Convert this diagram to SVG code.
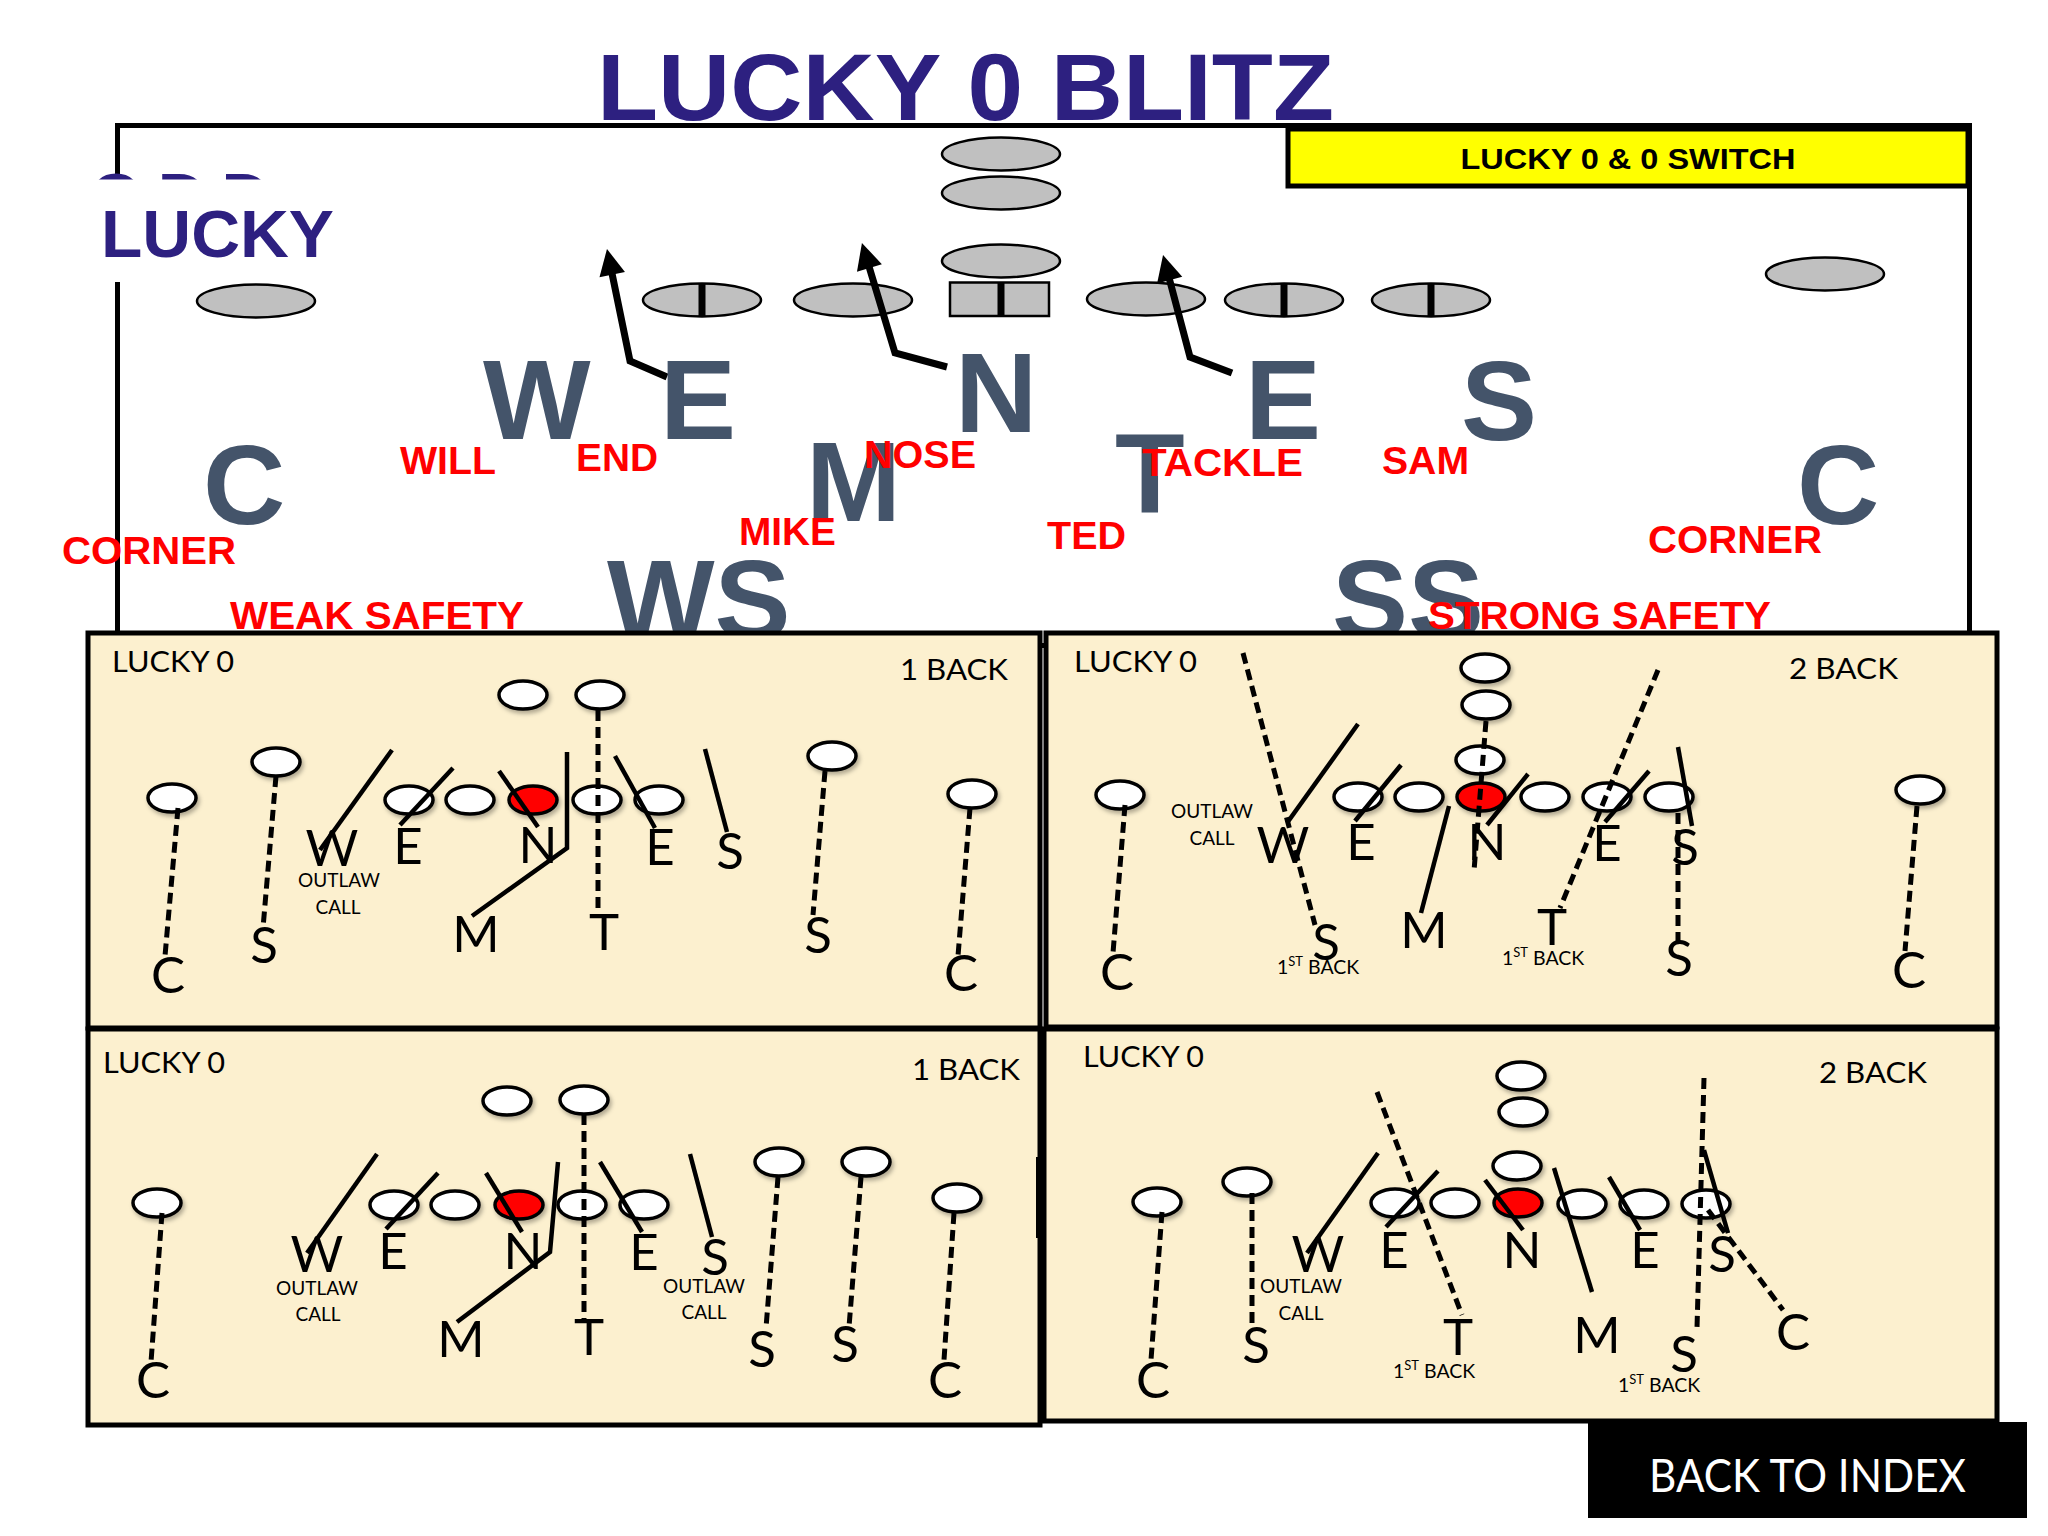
<svg xmlns="http://www.w3.org/2000/svg" width="2048" height="1536" viewBox="0 0 2048 1536">
<defs>
<filter id="sh" x="-30%" y="-30%" width="170%" height="180%"><feDropShadow dx="2" dy="3" stdDeviation="2" flood-color="#000" flood-opacity="0.3"/></filter>
<marker id="ah" markerUnits="userSpaceOnUse" viewBox="-16 -15 30 30" markerWidth="30" markerHeight="30" refX="0" refY="0" orient="auto" overflow="visible"><path d="M12,0 L-14,-13 L-14,13 z" fill="#000"/></marker>
</defs>
<style>
.ttl{font-family:"Liberation Sans",Arial,sans-serif;font-weight:bold;fill:#2D2080}
.big{font-family:"Liberation Sans",Arial,sans-serif;font-weight:bold;font-size:114px;fill:#44546A}
.red{font-family:"Liberation Sans",Arial,sans-serif;font-weight:bold;font-size:39px;fill:#FF0000}
.gp{fill:#C0C0C0;stroke:#000;stroke-width:2.5}
.bar{stroke:#000;stroke-width:7}
.arr{fill:none;stroke:#000;stroke-width:7;stroke-linejoin:miter}
.panel{fill:#FCF0CF;stroke:#000;stroke-width:5}
.pl{fill:#fff;stroke:#000;stroke-width:3.5;filter:url(#sh)}
.rp{fill:#FF0000}
.sl{stroke:#000;stroke-width:4.5;fill:none}
.dl{stroke:#000;stroke-width:5;fill:none;stroke-dasharray:11 6}
.pt{font-family:Lato,"Open Sans",sans-serif;fill:#000}
.let{font-size:51px;text-anchor:middle}
.hd{font-size:29px}
.oc{font-size:19px;text-anchor:middle}
.fb{font-size:19.5px}
</style>
<rect width="2048" height="1536" fill="#fff"/>

<!-- Top diagram frame -->
<g id="frame">
<rect x="117.5" y="125.5" width="1852" height="520" fill="#fff" stroke="#000" stroke-width="5"/>
</g>
<g id="title">
<text class="ttl" x="597" y="120" font-size="94" textLength="737" lengthAdjust="spacingAndGlyphs">LUCKY 0 BLITZ</text>
</g>
<g id="odd-lucky">
<text class="ttl" x="90" y="220" font-size="67" textLength="180" lengthAdjust="spacing">ODD</text>
<rect x="85" y="179.5" width="265" height="102.5" fill="#fff"/>
<text class="ttl" x="101" y="257" font-size="67" textLength="233" lengthAdjust="spacingAndGlyphs">LUCKY</text>
</g>
<g id="switch-box">
<rect x="1288" y="129" width="680" height="57" fill="#FFFF00" stroke="#000" stroke-width="5"/>
<text x="1628" y="169" text-anchor="middle" font-family="Liberation Sans, Arial, sans-serif" font-weight="bold" font-size="30" textLength="335" lengthAdjust="spacingAndGlyphs">LUCKY 0 &amp; 0 SWITCH</text>
</g>

<!-- offense (grey) -->
<g id="offense">
<ellipse class="gp" cx="1001" cy="154" rx="59" ry="16.5"/>
<ellipse class="gp" cx="1001" cy="193" rx="59" ry="16.5"/>
<ellipse class="gp" cx="1001" cy="261" rx="59" ry="16.5"/>
<ellipse class="gp" cx="256" cy="301" rx="59" ry="16.5"/>
<ellipse class="gp" cx="702" cy="300" rx="59" ry="16.5"/>
<line class="bar" x1="702" y1="283.5" x2="702" y2="316.5"/>
<ellipse class="gp" cx="853" cy="300" rx="59" ry="16.5"/>
<rect class="gp" x="950" y="282.5" width="99" height="33.5"/>
<line class="bar" x1="1001" y1="282.5" x2="1001" y2="316"/>
<ellipse class="gp" cx="1146" cy="299" rx="59" ry="16.5"/>
<ellipse class="gp" cx="1284" cy="300" rx="59" ry="16.5"/>
<line class="bar" x1="1284" y1="283.5" x2="1284" y2="316.5"/>
<ellipse class="gp" cx="1431" cy="300" rx="59" ry="16.5"/>
<line class="bar" x1="1431" y1="283.5" x2="1431" y2="316.5"/>
<ellipse class="gp" cx="1825" cy="274" rx="59" ry="16.5"/>
</g>

<g id="top-connectors">
<polyline class="arr" points="667,377 630,361 609.4,260.8" marker-end="url(#ah)"/>
<polyline class="arr" points="947,367 895,353 865.4,254.5" marker-end="url(#ah)"/>
<polyline class="arr" points="1232,373 1190,357 1166.1,266.6" marker-end="url(#ah)"/>
</g>

<g id="defense-letters">
<text class="big" x="483" y="439">W</text>
<text class="big" x="660" y="439">E</text>
<text class="big" x="955" y="432">N</text>
<text class="big" x="806" y="521">M</text>
<text class="big" x="203" y="524">C</text>
<text class="big" x="607" y="639">WS</text>
<text class="big" x="1115" y="512">T</text>
<text class="big" x="1245" y="439">E</text>
<text class="big" x="1461" y="440">S</text>
<text class="big" x="1797" y="524">C</text>
<text class="big" x="1332" y="639">SS</text>
</g>
<g id="position-names">
<text class="red" x="400" y="474" textLength="96" lengthAdjust="spacingAndGlyphs">WILL</text>
<text class="red" x="576" y="471" textLength="82" lengthAdjust="spacingAndGlyphs">END</text>
<text class="red" x="864" y="468" textLength="112" lengthAdjust="spacingAndGlyphs">NOSE</text>
<text class="red" x="739" y="545" textLength="97" lengthAdjust="spacingAndGlyphs">MIKE</text>
<text class="red" x="62" y="564" textLength="174" lengthAdjust="spacingAndGlyphs">CORNER</text>
<text class="red" x="230" y="629" textLength="294" lengthAdjust="spacingAndGlyphs">WEAK SAFETY</text>
<text class="red" x="1142" y="476" textLength="161" lengthAdjust="spacingAndGlyphs">TACKLE</text>
<text class="red" x="1382" y="474" textLength="87" lengthAdjust="spacingAndGlyphs">SAM</text>
<text class="red" x="1047" y="549" textLength="79" lengthAdjust="spacingAndGlyphs">TED</text>
<text class="red" x="1648" y="553" textLength="174" lengthAdjust="spacingAndGlyphs">CORNER</text>
<text class="red" x="1428" y="629" textLength="343" lengthAdjust="spacingAndGlyphs">STRONG SAFETY</text>
</g>

<!-- Panel top-left -->
<g id="panel-tl">
<rect class="panel" x="88" y="633" width="952" height="395"/>
<g id="tl-players">
<ellipse class="pl" cx="172" cy="798" rx="24" ry="14"/>
<ellipse class="pl" cx="276" cy="762" rx="24" ry="14"/>
<ellipse class="pl" cx="409" cy="800" rx="24" ry="14"/>
<ellipse class="pl" cx="470" cy="800" rx="24" ry="14"/>
<ellipse class="pl rp" cx="533" cy="800" rx="24" ry="14"/>
<ellipse class="pl" cx="597" cy="800" rx="24" ry="14"/>
<ellipse class="pl" cx="659" cy="800" rx="24" ry="14"/>
<ellipse class="pl" cx="523" cy="695" rx="24" ry="14"/>
<ellipse class="pl" cx="600" cy="695" rx="24" ry="14"/>
<ellipse class="pl" cx="832" cy="756" rx="24" ry="14"/>
<ellipse class="pl" cx="972" cy="794" rx="24" ry="14"/>
</g>
<g id="tl-connectors">
<line class="sl" x1="392" y1="750" x2="320" y2="850"/>
<line class="sl" x1="453" y1="768" x2="400" y2="825"/>
<line class="sl" x1="499" y1="771" x2="538" y2="827"/>
<polyline class="sl" points="567,752 567,848 472,916"/>
<line class="sl" x1="615" y1="756" x2="655" y2="828"/>
<line class="sl" x1="705" y1="749" x2="727" y2="832"/>
<line class="dl" x1="178" y1="808" x2="165" y2="956"/>
<line class="dl" x1="276" y1="776" x2="263" y2="928"/>
<line class="dl" x1="598" y1="710" x2="598" y2="913"/>
<line class="dl" x1="825" y1="771" x2="813" y2="915"/>
<line class="dl" x1="970" y1="808" x2="958" y2="956"/>
</g>
<g id="tl-labels" class="pt">
<text class="hd" x="112" y="672" textLength="122" lengthAdjust="spacingAndGlyphs">LUCKY 0</text>
<text class="hd" x="900" y="680" textLength="108" lengthAdjust="spacingAndGlyphs">1 BACK</text>
<text class="let" x="168" y="993">C</text>
<text class="let" x="264" y="963">S</text>
<text class="let" x="332" y="866">W</text>
<text class="let" x="408" y="864">E</text>
<text class="let" x="538" y="863">N</text>
<text class="let" x="476" y="952">M</text>
<text class="let" x="604" y="950">T</text>
<text class="let" x="660" y="865">E</text>
<text class="let" x="730" y="869">S</text>
<text class="let" x="818" y="953">S</text>
<text class="let" x="961" y="991">C</text>
<text class="oc" x="339" y="887">OUTLAW</text>
<text class="oc" x="338" y="914">CALL</text>
</g>
</g>

<!-- Panel top-right -->
<g id="panel-tr">
<rect class="panel" x="1046" y="633" width="951" height="394"/>
<g id="tr-players">
<ellipse class="pl" cx="1120" cy="795" rx="24" ry="14"/>
<ellipse class="pl" cx="1358" cy="797" rx="24" ry="14"/>
<ellipse class="pl" cx="1419" cy="797" rx="24" ry="14"/>
<ellipse class="pl rp" cx="1481" cy="797" rx="24" ry="14"/>
<ellipse class="pl" cx="1545" cy="797" rx="24" ry="14"/>
<ellipse class="pl" cx="1607" cy="797" rx="24" ry="14"/>
<ellipse class="pl" cx="1669" cy="797" rx="24" ry="14"/>
<ellipse class="pl" cx="1485" cy="668" rx="24" ry="14"/>
<ellipse class="pl" cx="1486" cy="705" rx="24" ry="14"/>
<ellipse class="pl" cx="1480" cy="760" rx="24" ry="14"/>
<ellipse class="pl" cx="1920" cy="790" rx="24" ry="14"/>
</g>
<g id="tr-connectors">
<line class="sl" x1="1358" y1="724" x2="1287" y2="823"/>
<line class="sl" x1="1401" y1="765" x2="1355" y2="821"/>
<line class="sl" x1="1449" y1="806" x2="1421" y2="913"/>
<line class="sl" x1="1528" y1="774" x2="1487" y2="825"/>
<line class="sl" x1="1649" y1="771" x2="1605" y2="822"/>
<line class="sl" x1="1678" y1="747" x2="1692" y2="826"/>
<line class="dl" x1="1243" y1="653" x2="1315" y2="925"/>
<line class="dl" x1="1486" y1="721" x2="1474" y2="871"/>
<line class="dl" x1="1658" y1="670" x2="1560" y2="908"/>
<line class="dl" x1="1678" y1="813" x2="1678" y2="941"/>
<line class="dl" x1="1125" y1="805" x2="1113" y2="953"/>
<line class="dl" x1="1917" y1="806" x2="1905" y2="951"/>
</g>
<g id="tr-labels" class="pt">
<text class="hd" x="1074" y="672" textLength="123" lengthAdjust="spacingAndGlyphs">LUCKY 0</text>
<text class="hd" x="1789" y="679" textLength="109" lengthAdjust="spacingAndGlyphs">2 BACK</text>
<text class="let" x="1117" y="990">C</text>
<text class="let" x="1283" y="863">W</text>
<text class="let" x="1361" y="860">E</text>
<text class="let" x="1487" y="860">N</text>
<text class="let" x="1424" y="948">M</text>
<text class="let" x="1326" y="960">S</text>
<text class="let" x="1552" y="945">T</text>
<text class="let" x="1607" y="861">E</text>
<text class="let" x="1685" y="865">S</text>
<text class="let" x="1679" y="976">S</text>
<text class="let" x="1909" y="988">C</text>
<text class="oc" x="1212" y="818">OUTLAW</text>
<text class="oc" x="1212" y="845">CALL</text>
<text class="fb" x="1277" y="974">1<tspan font-size="13" dy="-8">ST</tspan><tspan dy="8"> BACK</tspan></text>
<text class="fb" x="1502" y="965">1<tspan font-size="13" dy="-8">ST</tspan><tspan dy="8"> BACK</tspan></text>
</g>
</g>

<!-- Panel bottom-left -->
<g id="panel-bl">
<rect class="panel" x="88" y="1029" width="952" height="396"/>
<rect x="1036" y="1157" width="6" height="81" fill="#000"/>
<g id="bl-players">
<ellipse class="pl" cx="157" cy="1203" rx="24" ry="14"/>
<ellipse class="pl" cx="394" cy="1205" rx="24" ry="14"/>
<ellipse class="pl" cx="455" cy="1205" rx="24" ry="14"/>
<ellipse class="pl rp" cx="519" cy="1205" rx="24" ry="14"/>
<ellipse class="pl" cx="582" cy="1205" rx="24" ry="14"/>
<ellipse class="pl" cx="644" cy="1205" rx="24" ry="14"/>
<ellipse class="pl" cx="507" cy="1101" rx="24" ry="14"/>
<ellipse class="pl" cx="584" cy="1100" rx="24" ry="14"/>
<ellipse class="pl" cx="779" cy="1162" rx="24" ry="14"/>
<ellipse class="pl" cx="866" cy="1162" rx="24" ry="14"/>
<ellipse class="pl" cx="957" cy="1198" rx="24" ry="14"/>
</g>
<g id="bl-connectors">
<line class="sl" x1="377" y1="1154" x2="307" y2="1253"/>
<line class="sl" x1="438" y1="1173" x2="386" y2="1229"/>
<line class="sl" x1="486" y1="1173" x2="522" y2="1232"/>
<polyline class="sl" points="558,1162 550,1252 457,1322"/>
<line class="sl" x1="600" y1="1162" x2="642" y2="1232"/>
<line class="sl" x1="690" y1="1154" x2="712" y2="1237"/>
<line class="dl" x1="162" y1="1213" x2="151" y2="1362"/>
<line class="dl" x1="584" y1="1114" x2="584" y2="1322"/>
<line class="dl" x1="778" y1="1177" x2="766" y2="1328"/>
<line class="dl" x1="861" y1="1177" x2="849" y2="1327"/>
<line class="dl" x1="954" y1="1213" x2="944" y2="1360"/>
</g>
<g id="bl-labels" class="pt">
<text class="hd" x="103" y="1073" textLength="122" lengthAdjust="spacingAndGlyphs">LUCKY 0</text>
<text class="hd" x="912" y="1080" textLength="108" lengthAdjust="spacingAndGlyphs">1 BACK</text>
<text class="let" x="153" y="1398">C</text>
<text class="let" x="317" y="1272">W</text>
<text class="let" x="393" y="1269">E</text>
<text class="let" x="523" y="1269">N</text>
<text class="let" x="461" y="1357">M</text>
<text class="let" x="589" y="1355">T</text>
<text class="let" x="644" y="1270">E</text>
<text class="let" x="715" y="1275">S</text>
<text class="let" x="762" y="1367">S</text>
<text class="let" x="845" y="1362">S</text>
<text class="let" x="945" y="1398">C</text>
<text class="oc" x="317" y="1295">OUTLAW</text>
<text class="oc" x="318" y="1321">CALL</text>
<text class="oc" x="704" y="1293">OUTLAW</text>
<text class="oc" x="704" y="1319">CALL</text>
</g>
</g>

<!-- Panel bottom-right -->
<g id="panel-br">
<rect class="panel" x="1044" y="1029" width="953" height="392"/>
<g id="br-players">
<ellipse class="pl" cx="1157" cy="1202" rx="24" ry="14"/>
<ellipse class="pl" cx="1247" cy="1182" rx="24" ry="14"/>
<ellipse class="pl" cx="1395" cy="1203" rx="24" ry="14"/>
<ellipse class="pl" cx="1455" cy="1203" rx="24" ry="14"/>
<ellipse class="pl rp" cx="1518" cy="1203" rx="24" ry="14"/>
<ellipse class="pl" cx="1521" cy="1076" rx="24" ry="14"/>
<ellipse class="pl" cx="1523" cy="1112" rx="24" ry="14"/>
<ellipse class="pl" cx="1517" cy="1166" rx="24" ry="14"/>
<ellipse class="pl" cx="1582" cy="1204" rx="24" ry="14"/>
<ellipse class="pl" cx="1644" cy="1204" rx="24" ry="14"/>
<ellipse class="pl" cx="1706" cy="1204" rx="24" ry="14"/>
</g>
<g id="br-connectors">
<line class="sl" x1="1378" y1="1153" x2="1307" y2="1253"/>
<line class="sl" x1="1438" y1="1171" x2="1386" y2="1227"/>
<line class="sl" x1="1485" y1="1180" x2="1523" y2="1230"/>
<line class="sl" x1="1554" y1="1168" x2="1592" y2="1292"/>
<line class="sl" x1="1609" y1="1177" x2="1640" y2="1230"/>
<line class="sl" x1="1704" y1="1150" x2="1728" y2="1233"/>
<line class="dl" x1="1162" y1="1212" x2="1151" y2="1360"/>
<line class="dl" x1="1252" y1="1193" x2="1252" y2="1327"/>
<line class="dl" x1="1377" y1="1092" x2="1462" y2="1315"/>
<line class="dl" x1="1704" y1="1078" x2="1697" y2="1328"/>
<line class="dl" x1="1708" y1="1210" x2="1783" y2="1310"/>
</g>
<g id="br-labels" class="pt">
<text class="hd" x="1083" y="1067" textLength="121" lengthAdjust="spacingAndGlyphs">LUCKY 0</text>
<text class="hd" x="1819" y="1083" textLength="108" lengthAdjust="spacingAndGlyphs">2 BACK</text>
<text class="let" x="1153" y="1398">C</text>
<text class="let" x="1256" y="1363">S</text>
<text class="let" x="1318" y="1272">W</text>
<text class="let" x="1394" y="1268">E</text>
<text class="let" x="1522" y="1268">N</text>
<text class="let" x="1458" y="1355">T</text>
<text class="let" x="1597" y="1353">M</text>
<text class="let" x="1645" y="1268">E</text>
<text class="let" x="1722" y="1272">S</text>
<text class="let" x="1684" y="1372">S</text>
<text class="let" x="1793" y="1350">C</text>
<text class="oc" x="1301" y="1293">OUTLAW</text>
<text class="oc" x="1301" y="1320">CALL</text>
<text class="fb" x="1393" y="1378">1<tspan font-size="13" dy="-8">ST</tspan><tspan dy="8"> BACK</tspan></text>
<text class="fb" x="1618" y="1392">1<tspan font-size="13" dy="-8">ST</tspan><tspan dy="8"> BACK</tspan></text>
</g>
</g>

<g id="back-to-index">
<rect x="1588" y="1422" width="439" height="96" fill="#000"/>
<text x="1649" y="1492" font-family="Lato, 'Open Sans', sans-serif" font-size="47" fill="#fff" textLength="317" lengthAdjust="spacingAndGlyphs">BACK TO INDEX</text>
</g>
</svg>
